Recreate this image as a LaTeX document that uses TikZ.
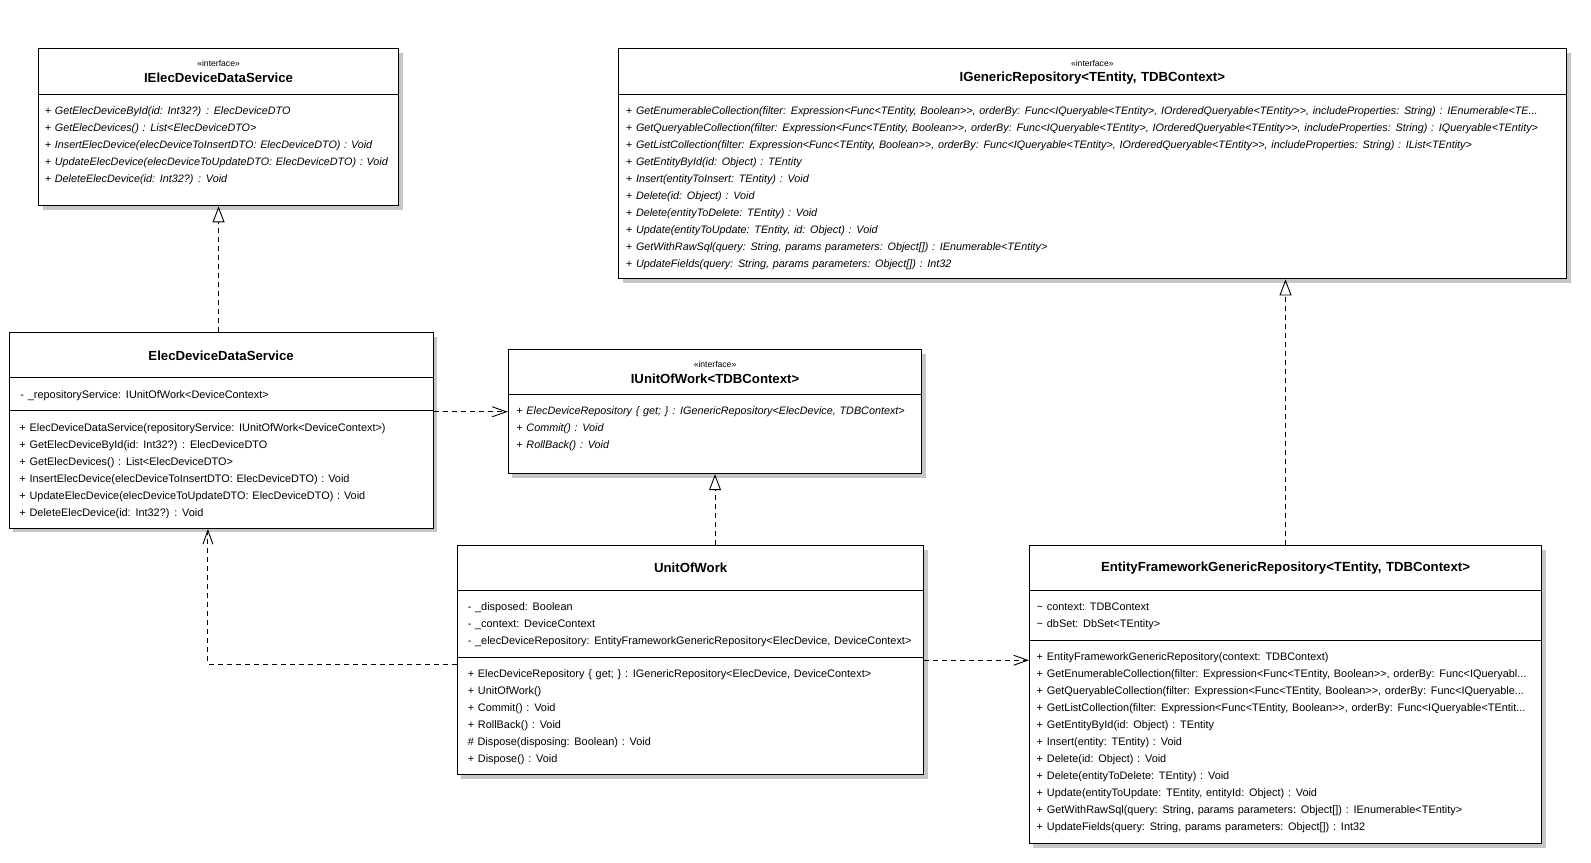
\documentclass[tikz,border=0pt]{standalone}
\usepackage{fontspec}
\setmainfont{Liberation Sans}[Ligatures=TeXOff, WordSpace=1.25]
\usetikzlibrary{arrows.meta,shadows,calc,fit}
\definecolor{shadowgray}{RGB}{198,198,198}
\newcommand\tdots{.{}.{}.}
\tikzset{
  classbox/.style={draw=black, line width=1pt, fill=white, inner sep=0pt,
    general shadow={fill=shadowgray, shadow xshift=4pt, shadow yshift=-4pt}},
  mem/.style={anchor=west, inner sep=0pt, font=\fontsize{10.9}{12}\selectfont, text height=7.5pt, text depth=3pt, yshift=-1.5pt},
  imem/.style={mem, font=\fontsize{10.8}{12}\selectfont\itshape},
  ttl/.style={anchor=center, inner sep=0pt, font=\fontsize{13.2}{15}\selectfont\bfseries},
  stereo/.style={anchor=center, inner sep=0pt, font=\fontsize{8.6}{10}\selectfont},
  sepline/.style={line width=1pt},
  depline/.style={line width=0.9pt, dash pattern=on 5pt off 4pt, -{Straight Barb[length=14pt,width=10pt]}},
  realline/.style={line width=0.9pt, dash pattern=on 5pt off 4pt, -{Triangle[open, length=16pt, width=12pt]}}
}
\begin{document}
\begin{tikzpicture}[x=1.0142pt,y=-1.0142pt]
\useasboundingbox (0,0) rectangle (1568.7,850.9);
\fill[white] (0,0) rectangle (1568.7,850.9);

% ---- IElecDeviceDataService
\node[classbox, fit={(38,48) (393,203)}] (ieds) {};
\draw[sepline] (38,93) -- (393,93);
\node[stereo] (iedsst) at (215.5,63) {«interface»};
\node[ttl] (iedst) at (215.5,77) {IElecDeviceDataService};
\foreach \t [count=\i] in {
  {+ GetElecDeviceById(id: Int32?) : ElecDeviceDTO},
  {+ GetElecDevices() : List<ElecDeviceDTO>},
  {+ InsertElecDevice(elecDeviceToInsertDTO: ElecDeviceDTO) : Void},
  {+ UpdateElecDevice(elecDeviceToUpdateDTO: ElecDeviceDTO) : Void},
  {+ DeleteElecDevice(id: Int32?) : Void}}
  \node[imem] (iedsm\i) at (44,{109+16.75*(\i-1)}) {\t};

% ---- IGenericRepository
\node[classbox, fit={(610,48) (1545,275)}] (igr) {};
\draw[sepline] (610,93) -- (1545,93);
\node[stereo] (igrst) at (1077,63) {«interface»};
\node[ttl] (igrt) at (1077,77) {IGenericRepository<TEntity, TDBContext>};
\foreach \t [count=\i] in {
  {+ GetEnumerableCollection(filter: Expression<Func<TEntity, Boolean>>, orderBy: Func<IQueryable<TEntity>, IOrderedQueryable<TEntity>>, includeProperties: String) : IEnumerable<TE\tdots},
  {+ GetQueryableCollection(filter: Expression<Func<TEntity, Boolean>>, orderBy: Func<IQueryable<TEntity>, IOrderedQueryable<TEntity>>, includeProperties: String) : IQueryable<TEntity>},
  {+ GetListCollection(filter: Expression<Func<TEntity, Boolean>>, orderBy: Func<IQueryable<TEntity>, IOrderedQueryable<TEntity>>, includeProperties: String) : IList<TEntity>},
  {+ GetEntityById(id: Object) : TEntity},
  {+ Insert(entityToInsert: TEntity) : Void},
  {+ Delete(id: Object) : Void},
  {+ Delete(entityToDelete: TEntity) : Void},
  {+ Update(entityToUpdate: TEntity, id: Object) : Void},
  {+ GetWithRawSql(query: String, params parameters: Object[]) : IEnumerable<TEntity>},
  {+ UpdateFields(query: String, params parameters: Object[]) : Int32}}
  \node[imem] (igrm\i) at (617,{109+16.75*(\i-1)}) {\t};

% ---- ElecDeviceDataService
\node[classbox, fit={(9,328) (427,521)}] (eds) {};
\draw[sepline] (9,372) -- (427,372);
\draw[sepline] (9,405) -- (427,405);
\node[ttl] (edst) at (218,351) {ElecDeviceDataService};
\node[mem] (edsa1) at (20,389) {- \_repositoryService: IUnitOfWork<DeviceContext>};
\foreach \t [count=\i] in {
  {+ ElecDeviceDataService(repositoryService: IUnitOfWork<DeviceContext>)},
  {+ GetElecDeviceById(id: Int32?) : ElecDeviceDTO},
  {+ GetElecDevices() : List<ElecDeviceDTO>},
  {+ InsertElecDevice(elecDeviceToInsertDTO: ElecDeviceDTO) : Void},
  {+ UpdateElecDevice(elecDeviceToUpdateDTO: ElecDeviceDTO) : Void},
  {+ DeleteElecDevice(id: Int32?) : Void}}
  \node[mem] (edsm\i) at (19,{422+16.75*(\i-1)}) {\t};

% ---- IUnitOfWork
\node[classbox, fit={(501,345) (909,467)}] (iuow) {};
\draw[sepline] (501,389) -- (909,389);
\node[stereo] (iuowst) at (705,359) {«interface»};
\node[ttl] (iuowt) at (705,373) {IUnitOfWork<TDBContext>};
\foreach \t [count=\i] in {
  {+ ElecDeviceRepository \{ get; \} : IGenericRepository<ElecDevice, TDBContext>},
  {+ Commit() : Void},
  {+ RollBack() : Void}}
  \node[imem] (iuowm\i) at (509,{405+16.75*(\i-1)}) {\t};

% ---- UnitOfWork
\node[classbox, fit={(451,538) (911,764)}] (uow) {};
\draw[sepline] (451,582) -- (911,582);
\draw[sepline] (451,648) -- (911,648);
\node[ttl] (uowt) at (681,560) {UnitOfWork};
\foreach \t [count=\i] in {
  {- \_disposed: Boolean},
  {- \_context: DeviceContext},
  {- \_elecDeviceRepository: EntityFrameworkGenericRepository<ElecDevice, DeviceContext>}}
  \node[mem] (uowa\i) at (461,{598+16.75*(\i-1)}) {\t};
\foreach \t [count=\i] in {
  {+ ElecDeviceRepository \{ get; \} : IGenericRepository<ElecDevice, DeviceContext>},
  {+ UnitOfWork()},
  {+ Commit() : Void},
  {+ RollBack() : Void},
  {\# Dispose(disposing: Boolean) : Void},
  {+ Dispose() : Void}}
  \node[mem] (uowm\i) at (461,{664+16.75*(\i-1)}) {\t};

% ---- EntityFrameworkGenericRepository
\node[classbox, fit={(1015,538) (1520,832)}] (efgr) {};
\draw[sepline] (1015,582) -- (1520,582);
\draw[sepline] (1015,632) -- (1520,632);
\node[ttl] (efgrt) at (1267.5,560) {EntityFrameworkGenericRepository<TEntity, TDBContext>};
\foreach \t [count=\i] in {
  {\textasciitilde\ context: TDBContext},
  {\textasciitilde\ dbSet: DbSet<TEntity>}}
  \node[mem] (efgra\i) at (1022,{598+16.75*(\i-1)}) {\t};
\foreach \t [count=\i] in {
  {+ EntityFrameworkGenericRepository(context: TDBContext)},
  {+ GetEnumerableCollection(filter: Expression<Func<TEntity, Boolean>>, orderBy: Func<IQueryabl\tdots},
  {+ GetQueryableCollection(filter: Expression<Func<TEntity, Boolean>>, orderBy: Func<IQueryable\tdots},
  {+ GetListCollection(filter: Expression<Func<TEntity, Boolean>>, orderBy: Func<IQueryable<TEntit\tdots},
  {+ GetEntityById(id: Object) : TEntity},
  {+ Insert(entity: TEntity) : Void},
  {+ Delete(id: Object) : Void},
  {+ Delete(entityToDelete: TEntity) : Void},
  {+ Update(entityToUpdate: TEntity, entityId: Object) : Void},
  {+ GetWithRawSql(query: String, params parameters: Object[]) : IEnumerable<TEntity>},
  {+ UpdateFields(query: String, params parameters: Object[]) : Int32}}
  \node[mem] (efgrm\i) at (1022,{648+16.75*(\i-1)}) {\t};

% ---- connectors
\draw[realline] (ieds.south |- eds.north) -- (ieds.south);
\draw[realline] (iuow.south |- uow.north) -- (iuow.south);
\draw[realline] (efgr.north) -- (efgr.north |- igr.south);
\draw[depline] (iuow.west -| eds.east) -- (iuow.west);
\coordinate (bend) at (205,655);
\draw[depline] (uow.west |- bend) -- (bend) -- (bend |- eds.south);
\draw[depline] (uow.east) -- (uow.east -| efgr.west);
\end{tikzpicture}
\end{document}
